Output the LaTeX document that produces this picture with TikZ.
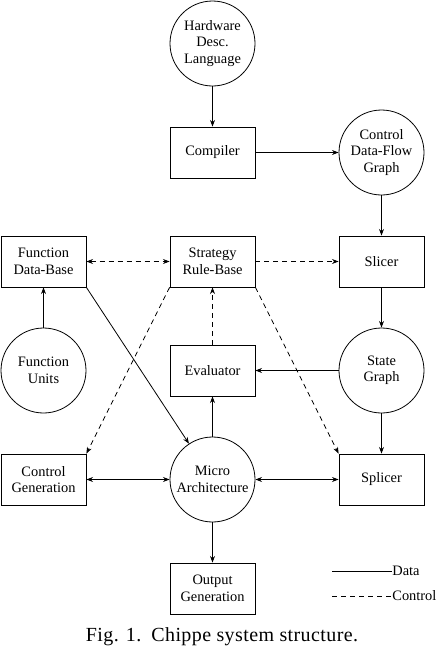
\documentclass[tikz,border=0pt]{standalone}
\usepackage{fontspec}
\setmainfont{Liberation Serif}
\newfontfamily\capfont[LetterSpace=2]{Liberation Serif}
\usetikzlibrary{arrows.meta, positioning}

\begin{document}
\begin{tikzpicture}[
    x=1pt, y=1pt,
    ->,                                % make all edges directed
    >=Stealth,                         % arrow tip style
    line width=0.8pt,
    on grid,                           % distances centre to centre
    node distance=109pt and 169pt,     % default distance between nodes
    every node/.style={font=\fontsize{14.4}{16.5}\selectfont, align=center},
    box/.style={draw, rectangle, minimum width=85pt, minimum height=51pt, inner sep=0pt},
    unit/.style={draw, circle, minimum size=85pt, inner sep=0pt},
    ctrlline/.style={dash pattern=on 5pt off 4pt}
  ]
  \useasboundingbox (0,0) rectangle (440,-648);

  \node[unit] (hdl) at (212.5,-43.5) {Hardware\\Desc.\\Language};
  \node[box] (compiler) [below=of hdl] {Compiler};
  \node[unit] (cdfg) [right=of compiler] {Control\\Data-Flow\\Graph};
  \node[box] (rulebase) [below=of compiler] {Strategy\\Rule-Base};
  \node[box] (funcdb) [left=of rulebase] {Function\\Data-Base};
  \node[box] (slicer) [below=of cdfg] {Slicer};
  \node[unit] (funits) [below=of funcdb] {Function\\Units};
  \node[box] (evaluator) [below=of rulebase] {Evaluator};
  \node[unit] (stategraph) [below=of slicer] {State\\Graph};
  \node[box] (ctrlgen) [below=of funits] {Control\\Generation};
  \node[unit] (micro) [below=of evaluator] {Micro\\Architecture};
  \node[box] (splicer) [below=of stategraph] {Splicer};
  \node[box] (outgen) [below=of micro] {Output\\Generation};

  % data
  \draw (hdl) -- (compiler);
  \draw (compiler) -- (cdfg);
  \draw (cdfg) -- (slicer);
  \draw (slicer) -- (stategraph);
  \draw (funits) -- (funcdb);
  \draw (stategraph) -- (evaluator);
  \draw (micro) -- (evaluator);
  \draw (stategraph) -- (splicer);
  \draw (funcdb.south east) -- (micro);
  \draw[<->] (ctrlgen) -- (micro);
  \draw[<->] (micro) -- (splicer);
  \draw (micro) -- (outgen);

  % control
  \draw[ctrlline, <->] (funcdb) -- (rulebase);
  \draw[ctrlline] (rulebase) -- (slicer);
  \draw[ctrlline] (evaluator) -- (rulebase);
  \draw[ctrlline] (rulebase.south west) -- (ctrlgen.north east);
  \draw[ctrlline] (rulebase.south east) -- (splicer.north west);

  % legend
  \coordinate (dataend) at (332,-571);
  \node[anchor=west, inner sep=0pt] (datatxt) at (392,-571) {Data};
  \draw[-] (dataend) -- (datatxt);
  \coordinate (ctrlend) at (332,-596);
  \node[anchor=west, inner sep=0pt] (ctrltxt) at (392,-596) {Control};
  \draw[-, ctrlline] (ctrlend) -- (ctrltxt);

  \node[font=\capfont\fontsize{20}{23}\selectfont] (caption) at (222,-637) {Fig. 1.\enspace Chippe system structure.};
\end{tikzpicture}
\end{document}
